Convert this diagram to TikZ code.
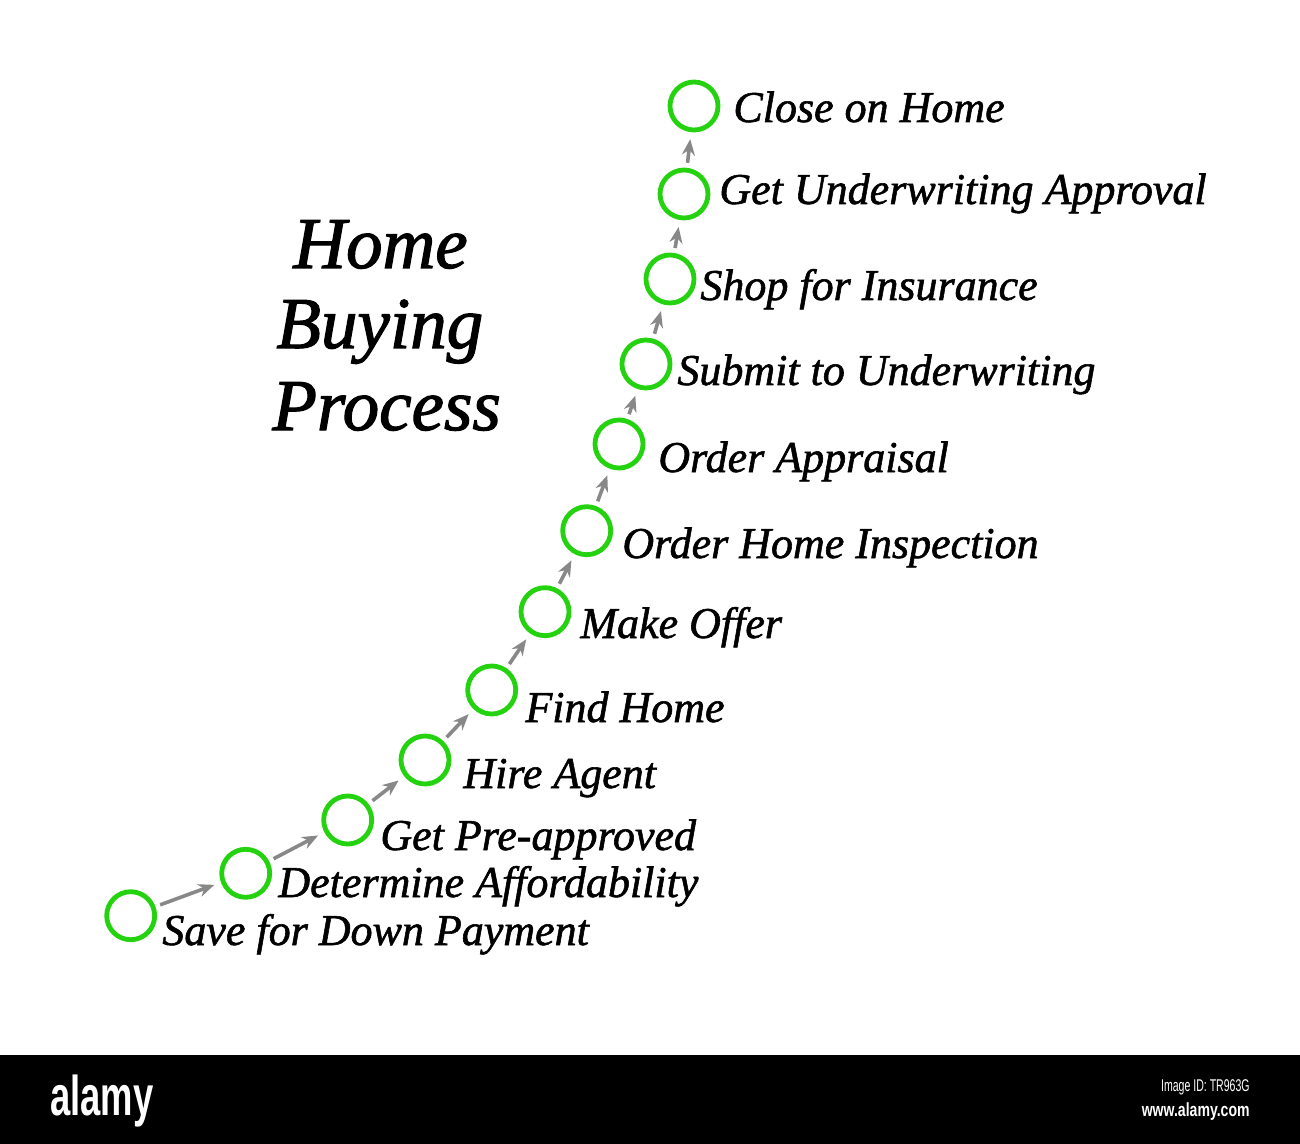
\documentclass[tikz,border=0pt]{standalone}
\usepackage{fontspec}
\setmainfont{Liberation Serif}
\newfontfamily\labfont[FakeBold=1.3]{Liberation Serif}
\newfontfamily\ttlfont[FakeBold=1.6]{Liberation Serif}
\newfontfamily\wmfont{Liberation Sans}
\usetikzlibrary{arrows.meta}
\definecolor{stepgreen}{RGB}{36,210,16}
\definecolor{arrowgray}{RGB}{136,136,136}
\begin{document}
\begin{tikzpicture}[x=0.5pt,y=-0.5pt,
  stepc/.style={circle,draw=stepgreen,line width=2.4pt,minimum size=24pt,inner sep=0pt},
  lab/.style={anchor=base west,inner sep=0pt,font=\labfont\fontsize{22}{26}\selectfont\itshape},
  ttl/.style={anchor=base west,inner sep=0pt,font=\ttlfont\fontsize{36.5}{40}\selectfont\itshape},
  flow/.style={draw=arrowgray,line width=1.8pt,-{Stealth[length=8pt,width=6.5pt]},shorten <=2.5pt,shorten >=3.5pt},
  wm/.style={inner sep=0pt,text=white,font=\wmfont}]
\useasboundingbox (0,0) rectangle (1300,1144);
\fill[white] (0,0) rectangle (1300,1144);
\fill[black] (0,1055) rectangle (1300,1144);

% circles
\node[stepc] (c1) at (130.7,915.7) {};
\node[stepc] (c2) at (245.7,873.3) {};
\node[stepc] (c3) at (347.7,820) {};
\node[stepc] (c4) at (425,760) {};
\node[stepc] (c5) at (491.7,690) {};
\node[stepc] (c6) at (545,611.7) {};
\node[stepc] (c7) at (586.7,530.7) {};
\node[stepc] (c8) at (619,444) {};
\node[stepc] (c9) at (646,364) {};
\node[stepc] (c10) at (670,279) {};
\node[stepc] (c11) at (684,194) {};
\node[stepc] (c12) at (694,106) {};

% labels
\node[lab] (l1) at (162,945) {Save for Down Payment};
\node[lab] (l2) at (278,897) {Determine Affordability};
\node[lab] (l3) at (380,850) {Get Pre-approved};
\node[lab] (l4) at (463,788) {Hire Agent};
\node[lab] (l5) at (525,722) {Find Home};
\node[lab] (l6) at (580,638) {Make Offer};
\node[lab] (l7) at (622,558) {Order Home Inspection};
\node[lab] (l8) at (658,472) {Order Appraisal};
\node[lab] (l9) at (677,385) {Submit to Underwriting};
\node[lab] (l10) at (700,300) {Shop for Insurance};
\node[lab] (l11) at (719,204) {Get Underwriting Approval};
\node[lab] (l12) at (733,122) {Close on Home};

% title
\node[ttl] (t1) at (293,268) {Home};
\node[ttl] (t2) at (276,348) {Buying};
\node[ttl] (t3) at (272,430) {Process};

% arrows
\foreach \a/\b in {c1/c2,c2/c3,c3/c4,c4/c5,c5/c6,c6/c7,c7/c8,c8/c9,c9/c10,c10/c11,c11/c12}
  \draw[flow] (\a) -- (\b);

% watermark bar
\node[wm,anchor=base west,font=\wmfont\bfseries\fontsize{28}{30}\selectfont] (w1) at (50,1115) {\scalebox{0.65}[1]{alamy}};
\node[wm,anchor=base east,font=\wmfont\fontsize{8.5}{9}\selectfont] (w2) at (1250,1091) {\scalebox{0.62}[1]{Image ID: TR963G}};
\node[wm,anchor=base east,font=\wmfont\bfseries\fontsize{9.5}{10}\selectfont] (w3) at (1250,1116) {\scalebox{0.74}[1]{www.alamy.com}};
\end{tikzpicture}
\end{document}
